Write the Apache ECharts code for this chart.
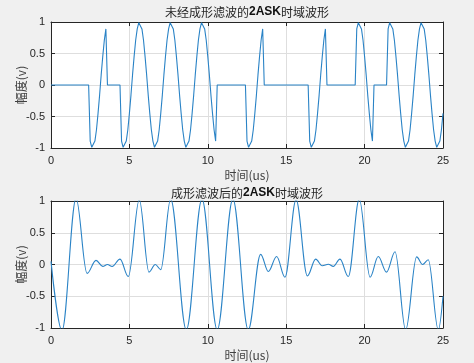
<!DOCTYPE html>
<html>
<head>
<meta charset="utf-8">
<script src="https://cdn.jsdelivr.net/npm/echarts@6/dist/echarts.min.js"></script>
<style>
  html, body { margin: 0; padding: 0; background: #f0f0f0; }
  #chart { width: 474px; height: 363px; }
</style>
</head>
<body>
<div id="chart"></div>
<script>
// ---------- data ----------
const titleTop = '未经成形滤波的2ASK时域波形';
const titleBottom = '成形滤波后的2ASK时域波形';
const xName = '时间(us)';
const yName = '幅度(v)';
const xTicks = [0, 5, 10, 15, 20, 25];
const yTicks = [-1, -0.5, 0, 0.5, 1];

// Top plot: unshaped 2ASK. Off-level is 0; bursts sampled every 0.1 us.
const sampleStep = 0.1;
const burstStart = [2.5, 4.5, 12.5, 16.5, 19.5, 21.5];
const burst1 = [-0.89,-0.99,-0.99,-0.89,-0.71,-0.45,-0.16,0.16,0.45,0.71,0.89];
const burst2 = [
  -0.89,-0.99,-0.99,-0.89,-0.71,-0.45,-0.16,0.16,0.45,0.71,0.89,0.99,0.99,0.89,0.71,0.45,0.16,-0.16,-0.45,-0.71,
  -0.89,-0.99,-0.99,-0.89,-0.71,-0.45,-0.16,0.16,0.45,0.71,0.89,0.99,0.99,0.89,0.71,0.45,0.16,-0.16,-0.45,-0.71,
  -0.89,-0.99,-0.99,-0.89,-0.71,-0.45,-0.16,0.16,0.45,0.71,0.89,0.99,0.99,0.89,0.71,0.45,0.16,-0.16,-0.45,-0.71,
  -0.89];
const burst3 = [-0.89,-0.99,-0.99,-0.89,-0.71,-0.45,-0.16,0.16,0.45,0.71,0.89];
const burst4 = [-0.89,-0.99,-0.99,-0.89,-0.71,-0.45,-0.16,0.16,0.45,0.71,0.89];
const burst5 = [0.89,0.99,0.99,0.89,0.71,0.45,0.16,-0.16,-0.45,-0.71,-0.89];
const burst6 = [
  0.89,0.99,0.99,0.89,0.71,0.45,0.16,-0.16,-0.45,-0.71,
  -0.89,-0.99,-0.99,-0.89,-0.71,-0.45,-0.16,0.16,0.45,0.71,
  0.89,0.99,0.99,0.89,0.71,0.45,0.16,-0.16,-0.45,-0.71,
  -0.89,-0.99,-0.99,-0.89,-0.71,-0.45];
const bursts = [burst1, burst2, burst3, burst4, burst5, burst6];
const tEnd = 25;

// Bottom plot: shaped 2ASK, local extrema (time, amplitude)
const bottomT = [0, 0.7, 1.6, 2.3, 2.87, 3.3, 3.6, 3.9, 4.4, 4.93, 5.63, 6.25, 6.65, 7.0, 7.63, 8.63, 9.63, 10.6, 11.6, 12.58,
  13.37, 13.86, 14.39, 14.92, 15.63, 16.35, 16.88, 17.3, 17.69, 18.0, 18.43, 18.96, 19.66, 20.35, 20.87, 21.4, 21.94, 22.62,
  23.32, 23.7, 24.06, 24.7, 25];
const bottomV = [0.05, -1.04, 1.04, -0.14, 0.065, -0.03, 0.0, -0.03, 0.085, -0.19, 1.02, -0.12, 0.0, -0.08, 1.03, -1.03, 1.03, -1.03, 1.03, -1.03,
  0.16, -0.11, 0.125, -0.2, 1.02, -0.18, 0.085, -0.02, 0.005, -0.03, 0.085, -0.19, 1.03, -0.2, 0.125, -0.12, 0.2, -1.03,
  0.12, 0.0, 0.075, -1.03, -0.5];

// ---------- build series data ----------
const topData = [[0, 0]];
bursts.forEach(function (b, k) {
  const s = burstStart[k];
  topData.push([+(s - sampleStep).toFixed(2), 0]);
  b.forEach(function (v, i) { topData.push([+(s + i * sampleStep).toFixed(2), v]); });
  const e = +(s + (b.length - 1) * sampleStep).toFixed(2);
  if (e < tEnd) topData.push([+(e + sampleStep).toFixed(2), 0]);
});
const bottomData = bottomT.map(function (t, i) { return [t, bottomV[i]]; });

// ---------- styling ----------
const axisColor = '#262626';
const lineColor = '#2a83c6';
const fontLatin = '"Liberation Sans", Arial, sans-serif';
const fontCJK = '"Noto Sans CJK SC", "Liberation Sans", sans-serif';

function xAxes(gi) {
  return [{
    type: 'value', gridIndex: gi, min: xTicks[0], max: xTicks[xTicks.length - 1], interval: xTicks[1] - xTicks[0],
    position: 'bottom',
    name: xName, nameLocation: 'middle', nameGap: 21, nameMoveOverlap: false,
    nameTextStyle: { fontFamily: fontCJK, fontSize: 12, color: '#404040' },
    axisLine: { show: true, onZero: false, lineStyle: { color: axisColor, width: 1 } },
    axisTick: { show: true, inside: true, length: 4, lineStyle: { color: axisColor } },
    axisLabel: { margin: 7, fontSize: 11, color: axisColor, fontFamily: fontLatin },
    splitLine: { show: true, lineStyle: { color: '#dedede', width: 1 } }
  }, {
    type: 'value', gridIndex: gi, min: xTicks[0], max: xTicks[xTicks.length - 1], interval: xTicks[1] - xTicks[0],
    position: 'top',
    axisLine: { show: true, onZero: false, lineStyle: { color: axisColor, width: 1 } },
    axisTick: { show: true, inside: true, length: 4, lineStyle: { color: axisColor } },
    axisLabel: { show: false },
    splitLine: { show: false }
  }];
}
function yAxes(gi) {
  return [{
    type: 'value', gridIndex: gi, min: yTicks[0], max: yTicks[yTicks.length - 1], interval: yTicks[1] - yTicks[0],
    position: 'left',
    name: yName, nameLocation: 'middle', nameGap: 24, nameRotate: 90, nameMoveOverlap: false,
    nameTextStyle: { fontFamily: fontCJK, fontSize: 12, color: '#404040' },
    axisLine: { show: true, onZero: false, lineStyle: { color: axisColor, width: 1 } },
    axisTick: { show: true, inside: true, length: 4, lineStyle: { color: axisColor } },
    axisLabel: { margin: 6, fontSize: 11, color: axisColor, fontFamily: fontLatin },
    splitLine: { show: true, lineStyle: { color: '#dedede', width: 1 } }
  }, {
    type: 'value', gridIndex: gi, min: yTicks[0], max: yTicks[yTicks.length - 1], interval: yTicks[1] - yTicks[0],
    position: 'right',
    axisLine: { show: true, onZero: false, lineStyle: { color: axisColor, width: 1 } },
    axisTick: { show: true, inside: true, length: 4, lineStyle: { color: axisColor } },
    axisLabel: { show: false },
    splitLine: { show: false }
  }];
}

function titleText(t) {
  const i = t.indexOf('2ASK');
  return '{c|' + t.slice(0, i) + '}{b|2ASK}{c|' + t.slice(i + 4) + '}';
}
const titleRich = {
  c: { fontFamily: fontCJK, fontSize: 12, fontWeight: 'normal', color: '#262626' },
  b: { fontFamily: fontLatin, fontSize: 12, fontWeight: 'bold', color: '#111' }
};

const chart = echarts.init(document.getElementById('chart'), null, { renderer: 'canvas' });
chart.setOption({
  animation: false,
  backgroundColor: '#f0f0f0',
  title: [
    { text: titleText(titleTop), left: 247, top: 6, textAlign: 'center', padding: 0,
      textStyle: { rich: titleRich, fontSize: 12, fontWeight: 'normal' } },
    { text: titleText(titleBottom), left: 247, top: 187, textAlign: 'center', padding: 0,
      textStyle: { rich: titleRich, fontSize: 12, fontWeight: 'normal' } }
  ],
  grid: [
    { left: 51, top: 22, width: 392, height: 126, show: true, backgroundColor: '#ffffff', borderWidth: 0 },
    { left: 51, top: 201, width: 392, height: 127, show: true, backgroundColor: '#ffffff', borderWidth: 0 }
  ],
  xAxis: xAxes(0).concat(xAxes(1)),
  yAxis: yAxes(0).concat(yAxes(1)),
  series: [
    { type: 'line', xAxisIndex: 0, yAxisIndex: 0, data: topData, showSymbol: false, clip: true,
      lineStyle: { color: lineColor, width: 1.1 } },
    { type: 'line', xAxisIndex: 2, yAxisIndex: 2, data: bottomData, showSymbol: false, clip: true,
      smooth: 0.36, smoothMonotone: 'x',
      lineStyle: { color: lineColor, width: 1.1 } }
  ]
});
</script>
</body>
</html>
